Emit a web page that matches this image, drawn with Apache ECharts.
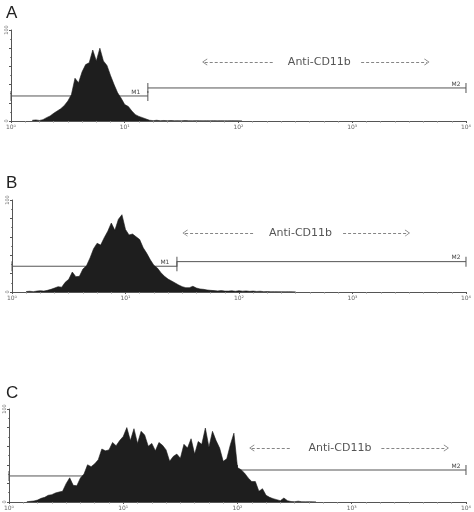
<!DOCTYPE html>
<html><head><meta charset="utf-8">
<script src="https://cdn.jsdelivr.net/npm/echarts@6/dist/echarts.min.js"></script>
<style>html,body{margin:0;padding:0;background:#fff;}#c{width:474px;height:512px;}</style>
</head><body><div id="c"></div>
<script>
// channel axis: 0..256 (64 channels per decade), bins of 2 channels
const tickLabels = ['10\u2070','10\u00b9','10\u00b2','10\u00b3','10\u2074'];
const binWidth = 2;
const startA = 12;
const countsA = [0.8,1.2,0.6,1.5,3.7,5.5,8.4,11,13.5,17,22,29,47,42,54,62,64,78,66,80,66,61,50,40,31,25,18,16,11,7,5,3.7,2.2,0.8,0.4,0.8,0.3,0.6,0.3,0.5,0.3,0.4,0.2,0.5,0.3,0.2,0.4,0.3,0.2,0.3,0.2,0.4,0.2,0.3,0.2,0.2,0.3,0.2,0.2,0.2];
const startB = 8;
const countsB = [0.5,0.8,0.4,1.0,1.4,1.0,1.8,2.9,4.3,5.8,5.2,10.5,13.8,21.7,16.7,17,25,28.6,37,47,53,51,59,66,75,67,79,84,68,62,63,60,57,48,42,35,29,26,21,17,14,12,9.8,7.6,5.8,4.7,4.7,6.2,4.3,3.3,2.9,2.2,1.8,1.5,1.2,1.5,1.0,1.0,1.3,0.8,1.4,0.9,1.2,0.7,1.0,0.6,0.8,0.4,0.5,0.3,0.4,0.3,0.3,0.2,0.3,0.2,0.2];
const startC = 10;
const countsC = [0.3,0.7,1.1,2.1,3.9,5,7.2,7.9,9.7,10.7,11.5,19.7,26,17.9,17.5,25.8,30,40,38,41,45.5,57,55,56,64,60.5,66,70.5,80,66,78.8,63,76,72,60,63,55,64,61,56,43.7,49,51.5,47,62,58,68,51.5,65,62,79.5,59,76,66,58,43.7,46.5,61.6,74,37,34.7,31,25.8,22,22,11.5,14.3,7.2,5,3.6,2.5,1.4,4.3,1.4,0.5,0.3,0.9,0.3,0.2,0.3,0.2,0.2];
// gates: [startChannel, endChannel, level]
const gateA1 = [0, 77, 27.5], gateA2 = [77, 256, 36.3];
const gateB1 = [0, 93, 28], gateB2 = [93, 256, 33];
const gateC1 = [0, 128, 28], gateC2 = [128, 256, 34.4];
// annotation "Anti-CD11b": [leftArrowFrom, leftArrowTo, textCenter, rightArrowFrom, rightArrowTo, level]
const annA = [109, 148, 173.5, 197, 234, 64.8];
const annB = [97.6, 136, 162.7, 186.7, 223, 64];
const annC = [136, 158, 185.4, 208.6, 245, 58];
const panelLetters = ['A','B','C'];

const grids = [
  {left: 11, right: 8, top: 30, height: 91},
  {left: 12, right: 8, top: 200, height: 92},
  {left: 9, right: 6, top: 409, height: 93}
];
const chevron = 'path://M0,10 L5,0 L10,10 L9,10 L5,2 L1,10 Z';
const ink = '#1e1e1e';
const grey = '#555';

function toPairs(start, arr){ return arr.map((v,i)=>[start + i*binWidth, v]); }

const xAxes = [], yAxes = [], series = [];
const panels = [
  {start: startA, counts: countsA, g1: gateA1, g2: gateA2, ann: annA, m1: true},
  {start: startB, counts: countsB, g1: gateB1, g2: gateB2, ann: annB, m1: true},
  {start: startC, counts: countsC, g1: gateC1, g2: gateC2, ann: annC, m1: false}
];
panels.forEach((p, i) => {
  xAxes.push({
    gridIndex: i, type: 'value', min: 0, max: 256, interval: 64,
    axisLine: {lineStyle: {color: grey, width: 1}},
    axisTick: {show: true, length: 2, lineStyle: {color: grey}},
    minorTick: {show: true, splitNumber: 8, length: 1.5, lineStyle: {color: '#888'}},
    splitLine: {show: false},
    axisLabel: {fontSize: 6, color: '#666', margin: 3, fontFamily: 'DejaVu Sans',
      formatter: v => tickLabels[Math.round(v/64)]}
  });
  yAxes.push({
    gridIndex: i, type: 'value', min: 0, max: 100, interval: 20,
    axisLine: {show: true, lineStyle: {color: grey, width: 1}},
    axisTick: {show: true, length: 2, lineStyle: {color: grey}},
    minorTick: {show: true, splitNumber: 2, length: 1, lineStyle: {color: '#888'}},
    splitLine: {show: false},
    axisLabel: {fontSize: 5, color: '#666', margin: 2, rotate: 90, fontFamily: 'DejaVu Sans',
      formatter: v => (v === 0 ? '0' : (v === 100 ? '100' : ''))}
  });
  const gateStyle = {color: grey, width: 1};
  const gateSeries = (g, name, showLabel, labelShift) => ({
    type: 'line', xAxisIndex: i, yAxisIndex: i, z: 1, silent: true,
    data: [[g[0], g[2]], [g[1], g[2]]],
    symbol: 'rect', symbolSize: [1, 10], showSymbol: true,
    itemStyle: {color: grey}, lineStyle: gateStyle, animation: false,
    markPoint: showLabel ? {
      symbol: 'rect', symbolSize: 1, itemStyle: {color: 'rgba(0,0,0,0)'},
      label: {show: true, formatter: name, fontSize: 6, color: '#444', position: 'inside',
        offset: [labelShift, -4], fontFamily: 'DejaVu Sans'},
      data: [{coord: [g[1], g[2]]}]
    } : undefined
  });
  series.push(gateSeries(p.g1, 'M1', p.m1, -12));
  series.push(gateSeries(p.g2, 'M2', true, -10));
  series.push({
    type: 'line', xAxisIndex: i, yAxisIndex: i, z: 3, silent: true,
    data: toPairs(p.start, p.counts), showSymbol: false, symbol: 'none',
    lineStyle: {color: ink, width: 0.6}, areaStyle: {color: ink, opacity: 1},
    animation: false,
    markLine: {
      silent: true, animation: false, symbol: ['none','none'],
      lineStyle: {color: '#666', type: [3, 2], width: 0.8},
      label: {show: false},
      data: [
        [{coord: [p.ann[0], p.ann[5]], symbol: chevron, symbolSize: [7, 5]}, {coord: [p.ann[1], p.ann[5]], symbol: 'none'}],
        [{coord: [p.ann[3], p.ann[5]], symbol: 'none'}, {coord: [p.ann[4], p.ann[5]], symbol: chevron, symbolSize: [7, 5]}]
      ]
    },
    markPoint: {
      symbol: 'rect', symbolSize: 1, itemStyle: {color: 'rgba(0,0,0,0)'},
      label: {show: true, formatter: 'Anti-CD11b', fontSize: 11, color: '#555', position: 'inside',
        fontFamily: 'DejaVu Sans'},
      data: [{coord: [p.ann[2], p.ann[5]]}]
    }
  });
});

const chart = echarts.init(document.getElementById('c'), null, {renderer: 'canvas'});
chart.setOption({
  backgroundColor: '#fff',
  animation: false,
  title: [
    {text: panelLetters[0], left: 1, top: 0, textStyle: {fontSize: 17, fontWeight: 'normal', color: '#222', fontFamily: 'Liberation Sans'}},
    {text: panelLetters[1], left: 1, top: 170, textStyle: {fontSize: 17, fontWeight: 'normal', color: '#222', fontFamily: 'Liberation Sans'}},
    {text: panelLetters[2], left: 1, top: 380, textStyle: {fontSize: 17, fontWeight: 'normal', color: '#222', fontFamily: 'Liberation Sans'}}
  ],
  grid: grids,
  xAxis: xAxes,
  yAxis: yAxes,
  series: series
});
</script></body></html>
